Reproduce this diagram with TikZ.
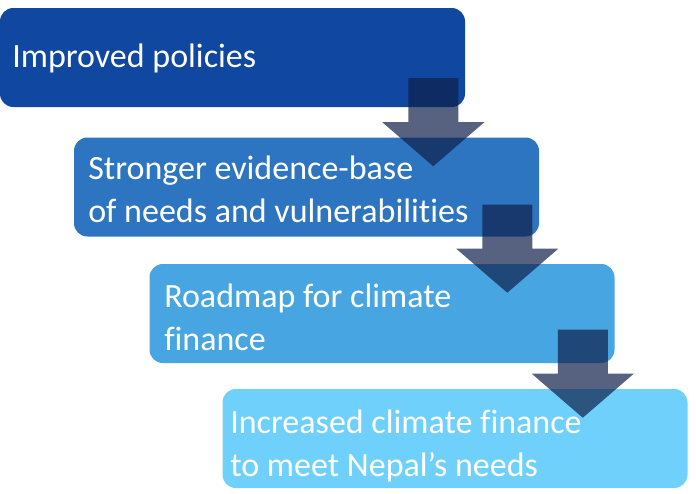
\documentclass[tikz,border=0pt]{standalone}
\usepackage{fontspec}
\setmainfont[Ligatures={NoCommon}]{Carlito}
\usetikzlibrary{calc}
\definecolor{stepone}{RGB}{16,71,161}
\definecolor{steptwo}{RGB}{46,117,193}
\definecolor{stepthree}{RGB}{71,166,225}
\definecolor{stepfour}{RGB}{112,208,252}
\definecolor{navy}{RGB}{15,32,75}

\begin{document}
\begin{tikzpicture}[x=0.75pt,y=-0.75pt,
        stepbox/.style={rounded corners=10pt,minimum width=348.75pt,minimum height=74.25pt,inner sep=0pt},
        steptext/.style={anchor=base west,align=left,text=white,inner sep=0pt,font=\fontsize{25.5}{32}\selectfont},
        flow/.style={fill=navy,fill opacity=0.7}]
        \useasboundingbox (0,0) rectangle (696,493);

        % Steps
        \node[stepbox,fill=stepone] (b1) at (232.5,57.5) {};
        \node[stepbox,fill=steptwo] (b2) at (306.5,187) {};
        \node[stepbox,fill=stepthree] (b3) at (382,313.5) {};
        \node[stepbox,fill=stepfour] (b4) at (455,438.5) {};

        % Labels (base = last line)
        \node[steptext] (t1) at (12,67) {Improved policies};
        \node[steptext] (t2) at (88,222) {Stronger evidence-base\\of needs and vulnerabilities};
        \node[steptext] (t3) at (164,350) {Roadmap for climate\\finance};
        \node[steptext] (t4) at (230,476) {Increased climate finance\\to meet Nepal’s needs};

        % Arrows from step to step
        \foreach \a/\b in {b1/b2,b2/b3,b3/b4}
            \fill[flow] ($(\a.east |- \b.north)+(-32,29)$) -- ++(51,-44) -- ++(-26,0) -- ++(0,-44)
                -- ++(-50,0) -- ++(0,44) -- ++(-26,0) -- cycle;
    \end{tikzpicture}
\end{document}
